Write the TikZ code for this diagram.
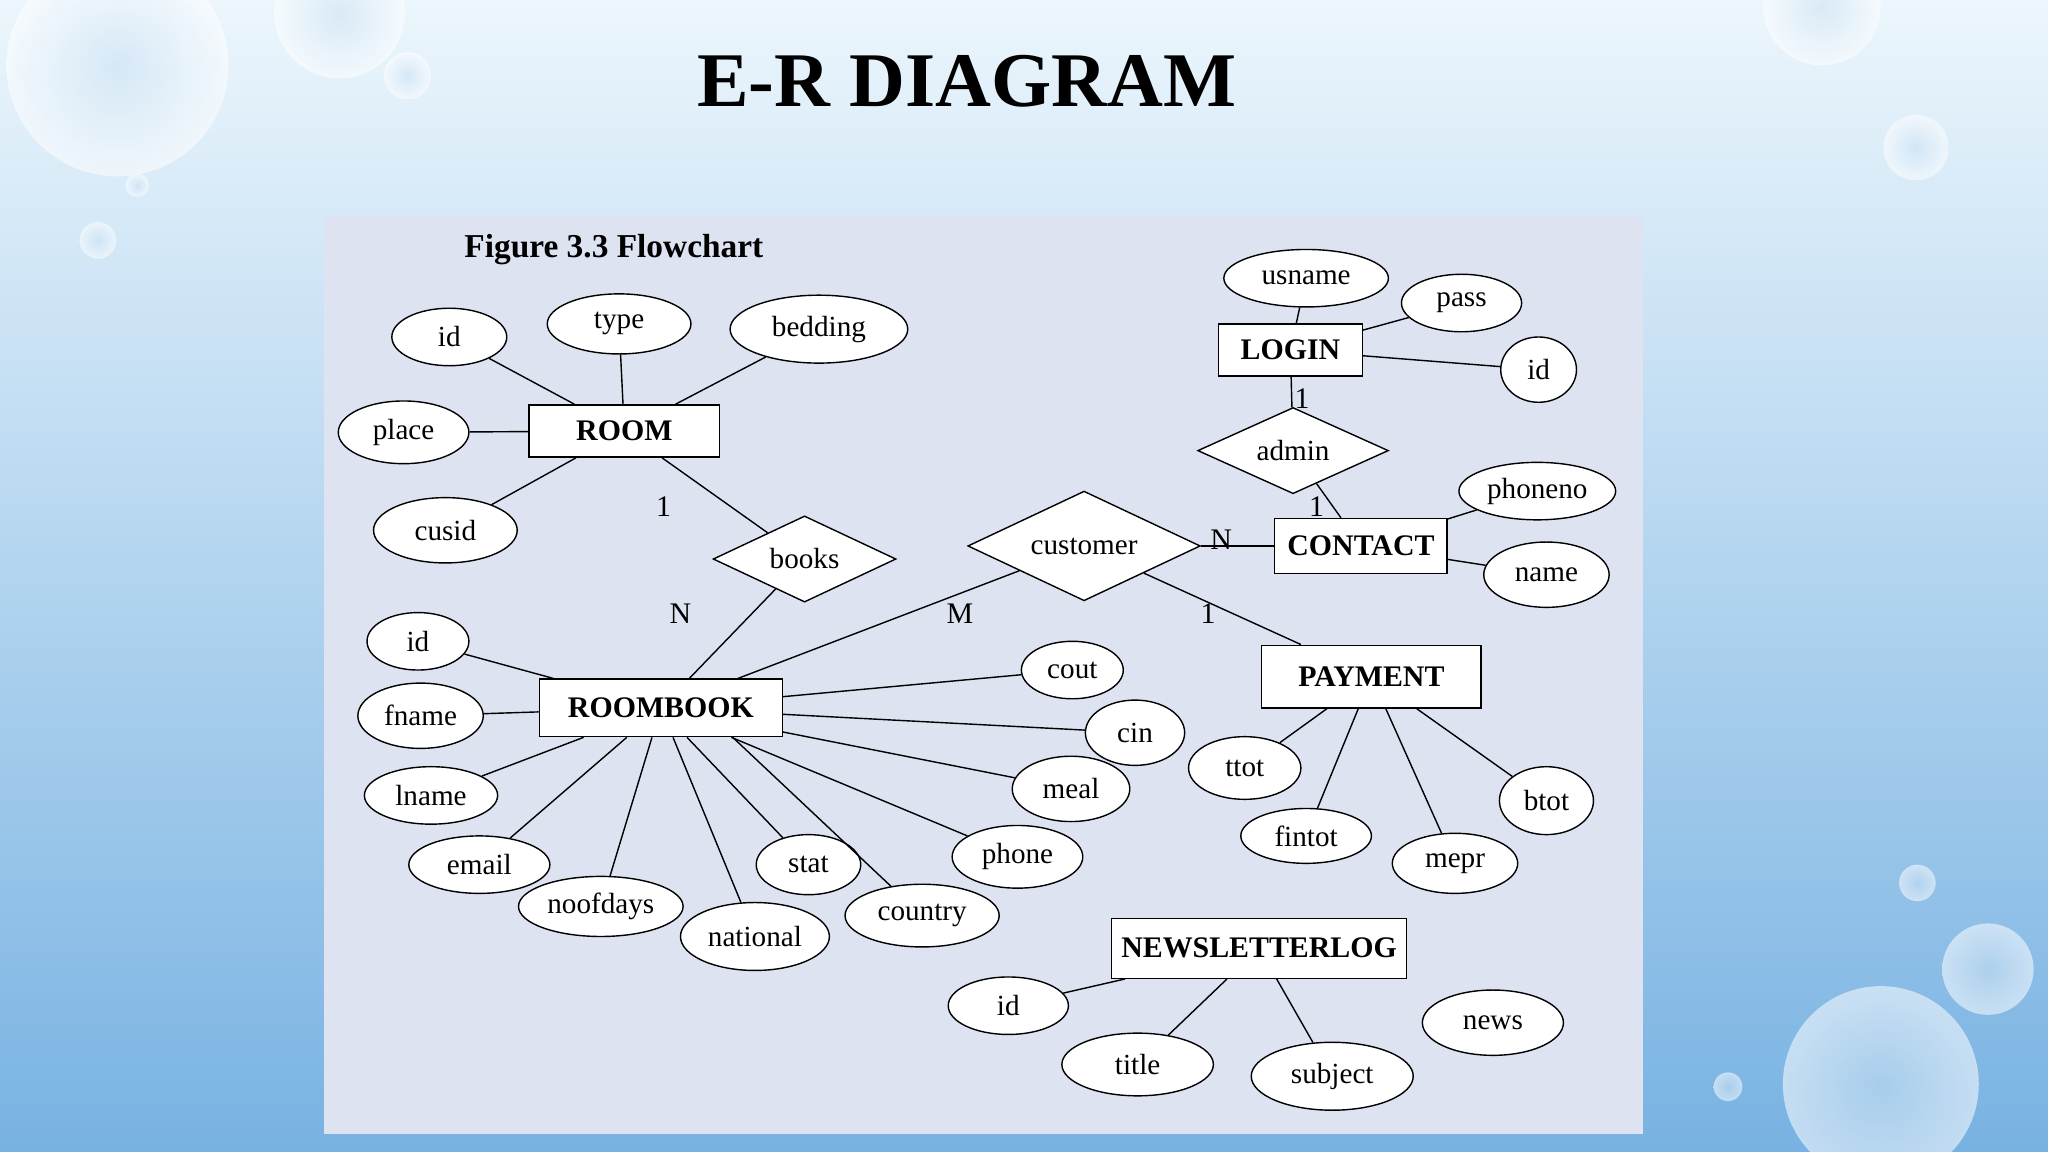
\documentclass[tikz,border=0pt]{standalone}
\usepackage{fontspec}
\setmainfont{Liberation Serif}
\usetikzlibrary{shapes.geometric}
\definecolor{panel}{RGB}{222,227,242}
\definecolor{skytop}{RGB}{236,246,252}
\definecolor{skybot}{RGB}{120,178,226}
\begin{document}
\begin{tikzpicture}[x=0.01306cm, y=-0.01306cm,
    every node/.style={font=\fontsize{8.3}{9}\selectfont, inner sep=0pt},
    att/.style 2 args={ellipse, draw, fill=white, minimum width=#1*0.01306cm, minimum height=#2*0.01306cm},
    ent/.style 2 args={rectangle, draw, fill=white, font=\fontsize{8.5}{9}\selectfont\bfseries, minimum width=#1*0.01306cm, minimum height=#2*0.01306cm},
    rel/.style 2 args={diamond, draw, fill=white, aspect=2.2, minimum width=#1*0.01306cm, minimum height=#2*0.01306cm},
    card/.style={font=\fontsize{8.5}{9}\selectfont}]
      % Background
      \useasboundingbox (0,0) rectangle (1568,882);
      \shade[top color=skytop, bottom color=skybot] (0,0) rectangle (1568,882);
      \foreach \cx/\cy/\r in {90/50/85, 260/10/50, 312/58/18, 105/142/9, 75/184/14, 1395/5/45, 1467/113/25, 1468/676/14, 1522/742/35, 1440/830/75, 1323/832/11}
        \shade[inner color=skybot!40!white, outer color=white, opacity=0.55] (\cx,\cy) circle (\r);
      \node[font=\fontsize{22}{24}\selectfont\bfseries] (title) at (740,62) {E-R DIAGRAM};

      % Panel
      \fill[panel] (248,165) rectangle (1258,868);
      \node[font=\fontsize{9.5}{10}\selectfont\bfseries] (cap) at (470,191) {Figure 3.3 Flowchart};

      % Entities
      \node[ent={146}{40}] (room) at (478,330) {ROOM};
      \node[ent={110}{40}] (login) at (988,268) {LOGIN};
      \node[ent={132}{42}] (contact) at (1042,418) {CONTACT};
      \node[ent={186}{44}] (roombook) at (506,542) {ROOMBOOK};
      \node[ent={168}{48}] (payment) at (1050,518) {PAYMENT};
      \node[ent={226}{46}] (newsletter) at (964,726) {NEWSLETTERLOG};

      % Relationships
      \node[rel={146}{66}] (admin) at (990,345) {admin};
      \node[rel={140}{66}] (books) at (616,428) {books};
      \node[rel={178}{84}] (customer) at (830,418) {customer};

      % Attributes
      \node[att={88}{44}] (rid) at (344,258) {id};
      \node[att={110}{46}] (rtype) at (474,248) {type};
      \node[att={136}{52}] (rbed) at (627,252) {bedding};
      \node[att={100}{48}] (rplace) at (309,331) {place};
      \node[att={110}{50}] (rcus) at (341,406) {cusid};
      \node[att={126}{44}] (luser) at (1000,213) {usname};
      \node[att={92}{44}] (lpass) at (1119,232) {pass};
      \node[att={58}{50}] (lid) at (1178,283) {id};
      \node[att={120}{44}] (cphone) at (1177,376) {phoneno};
      \node[att={96}{50}] (cname) at (1184,440) {name};
      \node[att={78}{44}] (bid) at (320,491) {id};
      \node[att={96}{50}] (bfname) at (322,548) {fname};
      \node[att={102}{44}] (blname) at (330,609) {lname};
      \node[att={108}{44}] (bemail) at (367,662) {email};
      \node[att={126}{46}] (bdays) at (460,694) {noofdays};
      \node[att={114}{52}] (bnat) at (578,717) {national};
      \node[att={80}{46}] (bstat) at (619,662) {stat};
      \node[att={118}{48}] (bcountry) at (706,701) {country};
      \node[att={100}{48}] (bphone) at (779,656) {phone};
      \node[att={90}{50}] (bmeal) at (820,604) {meal};
      \node[att={76}{50}] (bcin) at (869,561) {cin};
      \node[att={78}{44}] (bcout) at (821,513) {cout};
      \node[att={86}{48}] (pttot) at (953,588) {ttot};
      \node[att={100}{42}] (pfin) at (1000,640) {fintot};
      \node[att={96}{46}] (pmepr) at (1114,661) {mepr};
      \node[att={72}{52}] (pbtot) at (1184,613) {btot};
      \node[att={92}{44}] (nid) at (772,770) {id};
      \node[att={116}{48}] (ntitle) at (871,815) {title};
      \node[att={124}{52}] (nsub) at (1020,824) {subject};
      \node[att={108}{50}] (nnews) at (1143,783) {news};

      % Cardinalities
      \node[card] (c1) at (508,388) {1};
      \node[card] (c2) at (521,470) {N};
      \node[card] (c3) at (735,470) {M};
      \node[card] (c4) at (925,470) {1};
      \node[card] (c5) at (935,413) {N};
      \node[card] (c6) at (997,305) {1};
      \node[card] (c7) at (1008,388) {1};

      % Links
      \foreach \a/\b in {room/rid, room/rtype, room/rbed, room/rplace, room/rcus,
          login/luser, login/lpass, login/lid, contact/cphone, contact/cname,
          roombook/bid, roombook/bfname, roombook/blname, roombook/bemail, roombook/bdays,
          roombook/bnat, roombook/bphone, roombook/bmeal,
          roombook/bcin, roombook/bcout, payment/pttot, payment/pfin, payment/pmepr, payment/pbtot,
          newsletter/nid, newsletter/ntitle, newsletter/nsub,
          login/admin, admin/contact, room/books, books/roombook,
          roombook/customer, customer/contact, customer/payment}
        \draw (\a) -- (\b);
      \draw (roombook.south) ++(20,0) -- (bstat);
      \draw (roombook.south) ++(55,0) -- (bcountry);
\end{tikzpicture}
\end{document}
